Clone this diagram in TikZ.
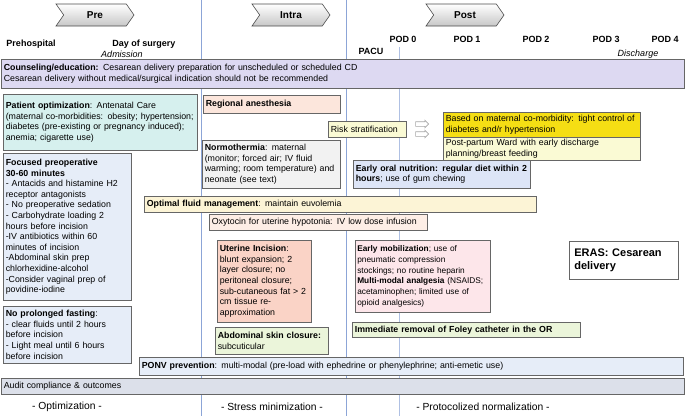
\documentclass[tikz,border=0pt]{standalone}
\usepackage{fontspec}
\setmainfont{Liberation Sans}
\usetikzlibrary{shapes.symbols,shapes.arrows}
\definecolor{lavande}{RGB}{221,217,242}
\definecolor{turquoise}{RGB}{214,240,238}
\definecolor{bleupale}{RGB}{230,237,248}
\definecolor{bleuclair}{RGB}{221,229,247}
\definecolor{peche}{RGB}{252,230,220}
\definecolor{pechepale}{RGB}{253,238,230}
\definecolor{saumon}{RGB}{250,211,198}
\definecolor{rose}{RGB}{253,230,234}
\definecolor{grisclair}{RGB}{242,242,242}
\definecolor{citron}{RGB}{250,250,212}
\definecolor{jaune}{RGB}{245,222,20}
\definecolor{creme}{RGB}{252,244,214}
\definecolor{vertpale}{RGB}{235,245,218}
\definecolor{ardoise}{RGB}{220,224,234}
\definecolor{bleuligne}{RGB}{140,165,215}

\begin{document}
\begin{tikzpicture}[x=1pt,y=-1pt]
% Styles
\tikzstyle{boite}=[draw=black!60,line width=0.6pt,anchor=north west,align=left,inner xsep=2.5pt,inner ysep=1pt,font=\fontsize{8.8}{10.6}\selectfont]
\tikzstyle{phase}=[shape=signal,signal from=west,signal to=east,signal pointer angle=110,draw=black!70,line width=0.6pt,top color=white,bottom color=black!22,minimum width=78pt,minimum height=22pt,font=\fontsize{10}{12}\selectfont\bfseries]
\tikzstyle{jour}=[font=\fontsize{9}{11}\selectfont\bfseries,inner sep=0pt]
\tikzstyle{note}=[font=\fontsize{9}{11}\selectfont\itshape,inner sep=0pt]
\tikzstyle{bilan}=[font=\fontsize{10.3}{12}\selectfont,inner sep=0pt]
\tikzstyle{ligne}=[draw=bleuligne,line width=0.6pt]
\tikzstyle{fleche}=[shape=single arrow,draw=black!35,line width=0.6pt,fill=white,single arrow head extend=1.5pt,minimum height=13pt,inner xsep=0pt,inner ysep=2pt]
% Cadre
\useasboundingbox (0,0) rectangle (685,416);
% Lignes
\draw[ligne] (201,0) -- (201,416);
\draw[ligne] (346,0) -- (346,416);
\draw[ligne,draw=bleuligne!70] (399,47) -- (399,416);
% Phases
\node[phase] (pre) at (95,15) {Pre};
\node[phase] (intra) at (291,15) {Intra};
\node[phase] (post) at (465,15) {Post};
% Jours
\node[jour] (prehosp) at (31,44) {Prehospital};
\node[jour] (jourop) at (144,44) {Day of surgery};
\node[note] (admission) at (122,54) {Admission};
\node[jour] (pacu) at (371,51) {PACU};
\node[jour] (pod0) at (403,39) {POD 0};
\node[jour] (pod1) at (467,39) {POD 1};
\node[jour] (pod2) at (536,39) {POD 2};
\node[jour] (pod3) at (606,39) {POD 3};
\node[jour] (pod4) at (665,39) {POD 4};
\node[note] (sortie) at (638,54) {Discharge};
% Boites
\node[boite,fill=lavande,text width=678,minimum height=29] (conseil) at (1,59) {\textbf{Counseling/education:} Cesarean delivery preparation for unscheduled or scheduled CD\\Cesarean delivery without medical/surgical indication should not be recommended};
\node[boite,fill=turquoise,text width=189,minimum height=56] (patient) at (3,94) {\textbf{Patient optimization}: Antenatal Care\\ (maternal co-morbidities: obesity; hypertension;\\diabetes (pre-existing or pregnancy induced);\\anemia; cigarette use)};
\node[boite,fill=bleupale,text width=123,minimum height=147] (preop) at (3,153) {\textbf{Focused preoperative}\\\textbf{30-60 minutes}\\- Antacids and histamine H2\\receptor antagonists\\- No preoperative sedation\\- Carbohydrate loading 2\\hours before incision\\-IV antibiotics within 60\\minutes of incision\\-Abdominal skin prep\\chlorhexidine-alcohol\\-Consider vaginal prep of\\povidine-iodine};
\node[boite,fill=bleupale,text width=123,minimum height=57] (jeune) at (3,306) {\textbf{No prolonged fasting}:\\- clear fluids until 2 hours\\before incision\\- Light meal until 6 hours\\before incision};
\node[boite,fill=peche,text width=132,minimum height=18] (regionale) at (203,95) {\textbf{Regional anesthesia}};
\node[boite,fill=grisclair,text width=133,minimum height=48] (normo) at (202,140) {\textbf{Normothermia}: maternal\\(monitor; forced air; IV fluid\\warming; room temperature) and\\neonate (see text)};
\node[boite,fill=citron,text width=73,minimum height=16] (risque) at (328,121) {Risk stratification};
\node[fleche] (flecheA) at (421,124) {};
\node[fleche] (flecheB) at (421,134) {};
\node[boite,fill=jaune,text width=192,minimum height=25] (comorb) at (443,112) {Based on maternal co-morbidity: tight control of\\diabetes and/r hypertension};
\node[boite,fill=citron,text width=192,minimum height=23] (postpartum) at (443,137) {Post-partum Ward with early discharge\\planning/breast feeding};
\node[boite,fill=bleuclair,text width=172,minimum height=28] (nutrition) at (353,160) {\textbf{Early oral nutrition: regular diet within 2}\\\textbf{hours}; use of gum chewing};
\node[boite,fill=creme,text width=387,minimum height=16] (fluide) at (144,196) {\textbf{Optimal fluid management}: maintain euvolemia};
\node[boite,fill=pechepale,text width=213,minimum height=16] (ocyto) at (209,214) {Oxytocin for uterine hypotonia: IV low dose infusion};
\node[boite,fill=saumon,text width=89,minimum height=82] (uterine) at (217,240) {\textbf{Uterine Incision}:\\blunt expansion; 2\\layer closure; no\\peritoneal closure;\\sub-cutaneous fat > 2\\cm tissue re-\\approximation};
\node[boite,fill=vertpale,text width=108,minimum height=27] (peau) at (215,327) {\textbf{Abdominal skin closure:}\\subcuticular};
\node[boite,fill=rose,text width=131,minimum height=72,inner xsep=2pt,font=\fontsize{8.3}{10.9}\selectfont] (mobil) at (355,240) {\textbf{Early mobilization}; use of\\pneumatic compression\\stockings; no routine heparin\\\textbf{Multi-modal analgesia} (NSAIDS;\\acetaminophen; limited use of\\opioid analgesics)};
\node[boite,fill=vertpale,text width=223,minimum height=15] (sonde) at (352,322) {\textbf{Immediate removal of Foley catheter in the OR}};
\node[boite,fill=white,text width=99,minimum height=38,inner xsep=5pt,font=\fontsize{11}{13.5}\selectfont\bfseries] (eras) at (569,241) {ERAS: Cesarean\\delivery};
\node[boite,fill=bleupale,text width=539,minimum height=18] (ponv) at (139,357) {\textbf{PONV prevention}: multi-modal (pre-load with ephedrine or phenylephrine; anti-emetic use)};
\node[boite,fill=ardoise,text width=678,minimum height=16] (audit) at (1,378) {Audit compliance \& outcomes};
% Bilans
\node[bilan] (optim) at (67,407) {- Optimization -};
\node[bilan] (stress) at (272,407) {- Stress minimization -};
\node[bilan] (normal) at (483,407) {- Protocolized normalization -};
\end{tikzpicture}
\end{document}
